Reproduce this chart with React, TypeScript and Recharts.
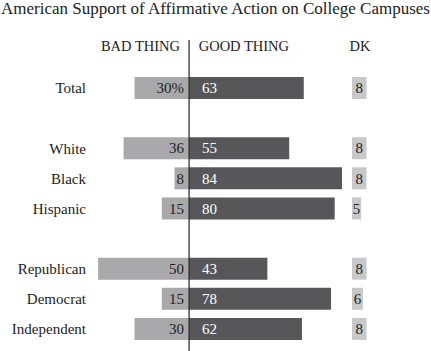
import React from 'react';
import { Bar, BarChart, LabelList, ReferenceLine, XAxis, YAxis } from 'recharts';

const groups = ['Total', '', 'White', 'Black', 'Hispanic', '', 'Republican', 'Democrat', 'Independent'];
const badThing = [30, null, 36, 8, 15, null, 50, 15, 30];
const goodThing = [63, null, 55, 84, 80, null, 43, 78, 62];
const dontKnow = [8, null, 8, 8, 5, null, 8, 6, 8];

// the DK boxes sit in their own column, this is where it starts (percent units)
const DK_COLUMN = 89.5;

const rows = groups.map((group, i) => ({
  group,
  bad: badThing[i] == null ? null : -(badThing[i] as number),
  good: goodThing[i],
  gap: goodThing[i] == null ? null : DK_COLUMN - (goodThing[i] as number),
  dk: dontKnow[i],
}));

const FONT = '"Liberation Serif", "Times New Roman", serif';

const BadLabel = (props: any) => {
  const { x, y, width, height, value, index } = props;
  if (value == null) return null;
  const right = Math.max(x, x + width);
  return (
    <text x={right - 5} y={y + height / 2} dy="0.35em" textAnchor="end" fill="#222" fontSize={15} fontFamily={FONT}>
      {Math.abs(value)}
      {index === 0 ? '%' : ''}
    </text>
  );
};

const GoodLabel = (props: any) => {
  const { x, y, width, height, value } = props;
  if (value == null) return null;
  const left = Math.min(x, x + width);
  return (
    <text x={left + 13} y={y + height / 2} dy="0.35em" textAnchor="start" fill="#fff" fontSize={15} fontFamily={FONT}>
      {value}
    </text>
  );
};

const DkLabel = (props: any) => {
  const { x, y, width, height, value } = props;
  if (value == null) return null;
  return (
    <text x={x + width / 2} y={y + height / 2} dy="0.35em" textAnchor="middle" fill="#222" fontSize={15} fontFamily={FONT}>
      {value}
    </text>
  );
};

const header: React.CSSProperties = {
  position: 'absolute',
  top: 38.6,
  fontSize: 14.5,
  lineHeight: '14.5px',
  whiteSpace: 'nowrap',
  color: '#222',
  zIndex: 2,
};

export default function App() {
  return (
    <div style={{ position: 'absolute', left: 0, top: 0, width: 431, height: 351, background: '#fff', fontFamily: FONT }}>
      <div
        style={{
          position: 'absolute',
          left: 0,
          top: 0,
          width: 431,
          textAlign: 'center',
          fontSize: 17,
          lineHeight: '17px',
          whiteSpace: 'nowrap',
          color: '#222',
          zIndex: 2,
        }}
      >
        American Support of Affirmative Action on College Campuses
      </div>
      <div style={{ ...header, right: 251, textAlign: 'right' }}>BAD THING</div>
      <div style={{ ...header, left: 198.7 }}>GOOD THING</div>
      <div style={{ ...header, left: 340, width: 40, textAlign: 'center' }}>DK</div>
      <div style={{ position: 'absolute', left: 0, top: 0 }}>
        <BarChart
          width={431}
          height={351}
          data={rows}
          layout="vertical"
          stackOffset="sign"
          barSize={22}
          margin={{ top: 40, right: 14.4, bottom: 0, left: 0 }}
        >
          <XAxis type="number" domain={[-55, 125]} hide />
          <YAxis
            type="category"
            dataKey="group"
            width={89}
            interval={0}
            axisLine={false}
            tickLine={false}
            tickSize={0}
            tickMargin={3}
            padding={{ top: 33, bottom: 7 }}
            tick={{ fill: '#222', fontSize: 15, fontFamily: FONT }}
          />
          <Bar dataKey="bad" stackId="a" fill="#a9a9ab" isAnimationActive={false}>
            <LabelList dataKey="bad" content={BadLabel} />
          </Bar>
          <Bar dataKey="good" stackId="a" fill="#57575a" isAnimationActive={false}>
            <LabelList dataKey="good" content={GoodLabel} />
          </Bar>
          <Bar dataKey="gap" stackId="a" fill="transparent" isAnimationActive={false} />
          <Bar dataKey="dk" stackId="a" fill="#c8c8ca" isAnimationActive={false}>
            <LabelList dataKey="dk" content={DkLabel} />
          </Bar>
          <ReferenceLine x={0} stroke="#222" strokeWidth={1.2} />
        </BarChart>
      </div>
    </div>
  );
}
